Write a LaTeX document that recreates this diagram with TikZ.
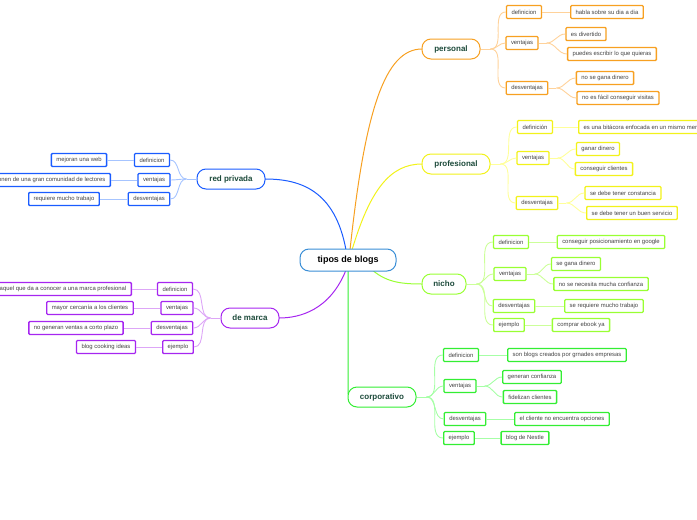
\documentclass[tikz,border=0pt]{standalone}
\usepackage{fontspec}
\setmainfont{Liberation Sans}
\usetikzlibrary{calc}
\definecolor{cOr}{HTML}{F7A021}\definecolor{lOr}{HTML}{FFD29A}
\definecolor{cYe}{HTML}{F2F21A}\definecolor{lYe}{HTML}{FFFF99}
\definecolor{cNi}{HTML}{99FF33}\definecolor{lNi}{HTML}{CCFF99}
\definecolor{cCo}{HTML}{33EE33}\definecolor{lCo}{HTML}{A6FFA6}
\definecolor{cBl}{HTML}{1A5CFF}\definecolor{lBl}{HTML}{A6C4FF}
\definecolor{cPu}{HTML}{A626F0}\definecolor{lPu}{HTML}{DDA6F7}
\definecolor{cRoot}{HTML}{3A8ED6}\definecolor{tMain}{HTML}{1C4A3A}
\definecolor{tSm}{HTML}{444444}
\tikzset{
 mainbox/.style={draw=#1,line width=1pt,rounded corners=9pt,fill=white,minimum height=20pt,inner xsep=9pt,font=\fontsize{8}{9}\selectfont\bfseries,text=tMain},
 sb/.style={draw=#1,line width=1.3pt,rounded corners=1pt,fill=white,minimum height=13pt,inner xsep=5pt,inner ysep=1pt,font=\fontsize{5.9}{7}\selectfont,text=tSm},
 br/.style={draw=#1,line width=1pt},
 sub/.style={draw=#1,line width=0.9pt},
}
\begin{document}
\begin{tikzpicture}[x=1pt,y=-1pt]
\useasboundingbox (0,0) rectangle (697,520);
\clip (0,0) rectangle (697,520);
\draw[br=cOr] (350,250) .. controls (365,110) and (385,49) .. (422,49);
\draw[br=cYe] (352,250) .. controls (370,190) and (390,164) .. (422,164);
\draw[br=cNi] (370,268) .. controls (385,282) and (400,284) .. (422,284);
\draw[br=cCo] (348,270) -- (348,385) .. controls (348,395) .. (350,397);
\draw[br=cBl] (346,250) .. controls (335,190) and (300,179) .. (265,179);
\draw[br=cPu] (346,270) .. controls (330,310) and (300,318) .. (279,318);

\node[draw=cRoot,line width=1pt,rounded corners=9pt,fill=white,minimum width=96pt,minimum height=22pt,font=\fontsize{9}{10}\selectfont\bfseries] (root) at (348,260) {tipos de blogs};

% personal
\node[mainbox=cOr,minimum width=58pt] (per) at (451,49) {personal};
\node[sb=cOr] (p1) at (524,12) {definicion};
\node[sb=cOr] (p1a) at (607,12) {habla sobre su dia a dia};
\node[sb=cOr] (p2) at (522,43) {ventajas};
\node[sb=cOr] (p2a) at (586,34) {es divertido};
\node[sb=cOr] (p2b) at (612,54) {puedes escribir lo que quieras};
\node[sb=cOr] (p3) at (527,88) {desventajas};
\node[sb=cOr] (p3a) at (605,78) {no se gana dinero};
\node[sb=cOr] (p3b) at (618,98) {no es fácil conseguir visitas};
\coordinate (pf) at ($(per.east)+(10,0)$);
\draw[sub=lOr] (per.east)--(pf);
\foreach \c in {p1,p2,p3}{\draw[sub=lOr] (pf) to[out=0,in=180] (\c.west);}
\draw[sub=lOr] (p1.east)--(p1a.west);
\coordinate (pv) at ($(p2.east)+(8,0)$);\draw[sub=lOr] (p2.east)--(pv);
\foreach \c in {p2a,p2b}{\draw[sub=lOr] (pv) to[out=0,in=180] (\c.west);}
\coordinate (pd) at ($(p3.east)+(8,0)$);\draw[sub=lOr] (p3.east)--(pd);
\foreach \c in {p3a,p3b}{\draw[sub=lOr] (pd) to[out=0,in=180] (\c.west);}

% profesional
\node[mainbox=cYe,minimum width=68pt] (pro) at (456,164) {profesional};
\node[sb=cYe] (q1) at (535,127) {definición};
\node[sb=cYe,anchor=west] (q1a) at (578,127) {es una bitácora enfocada en un mismo mercado};
\node[sb=cYe] (q2) at (533,158) {ventajas};
\node[sb=cYe] (q2a) at (598,149) {ganar dinero};
\node[sb=cYe] (q2b) at (604,169) {conseguir clientes};
\node[sb=cYe] (q3) at (537,203) {desventajas};
\node[sb=cYe] (q3a) at (623,193) {se debe tener constancia};
\node[sb=cYe] (q3b) at (632,213) {se debe tener un buen servicio};
\coordinate (qf) at ($(pro.east)+(10,0)$);\draw[sub=lYe] (pro.east)--(qf);
\foreach \c in {q1,q2,q3}{\draw[sub=lYe] (qf) to[out=0,in=180] (\c.west);}
\draw[sub=lYe] (q1.east)--(q1a.west);
\coordinate (qv) at ($(q2.east)+(8,0)$);\draw[sub=lYe] (q2.east)--(qv);
\foreach \c in {q2a,q2b}{\draw[sub=lYe] (qv) to[out=0,in=180] (\c.west);}
\coordinate (qd) at ($(q3.east)+(8,0)$);\draw[sub=lYe] (q3.east)--(qd);
\foreach \c in {q3a,q3b}{\draw[sub=lYe] (qd) to[out=0,in=180] (\c.west);}

% nicho
\node[mainbox=cNi,minimum width=44pt] (ni) at (444,284) {nicho};
\node[sb=cNi] (n1) at (511,242) {definicion};
\node[sb=cNi] (n1a) at (611,242) {conseguir posicionamiento en google};
\node[sb=cNi] (n2) at (510,274) {ventajas};
\node[sb=cNi] (n2a) at (576,264) {se gana dinero};
\node[sb=cNi] (n2b) at (601,284) {no se necesita mucha confianza};
\node[sb=cNi] (n3) at (514,306) {desventajas};
\node[sb=cNi] (n3a) at (604,306) {se requiere mucho trabajo};
\node[sb=cNi] (n4) at (509,325) {ejemplo};
\node[sb=cNi] (n4a) at (581,325) {comprar ebook ya};
\coordinate (nf) at ($(ni.east)+(10,0)$);\draw[sub=lNi] (ni.east)--(nf);
\foreach \c in {n1,n2,n3,n4}{\draw[sub=lNi] (nf) to[out=0,in=180] (\c.west);}
\draw[sub=lNi] (n1.east)--(n1a.west);
\draw[sub=lNi] (n3.east)--(n3a.west);
\draw[sub=lNi] (n4.east)--(n4a.west);
\coordinate (nv) at ($(n2.east)+(8,0)$);\draw[sub=lNi] (n2.east)--(nv);
\foreach \c in {n2a,n2b}{\draw[sub=lNi] (nv) to[out=0,in=180] (\c.west);}

% corporativo
\node[mainbox=cCo,minimum width=68pt] (co) at (382,397) {corporativo};
\node[sb=cCo] (c1) at (461,355) {definicion};
\node[sb=cCo] (c1a) at (567,355) {son blogs creados por grnades empresas};
\node[sb=cCo] (c2) at (460,386) {ventajas};
\node[sb=cCo] (c2a) at (532,377) {generan confianza};
\node[sb=cCo] (c2b) at (530,397) {fidelizan clientes};
\node[sb=cCo] (c3) at (465,419) {desventajas};
\node[sb=cCo] (c3a) at (562,419) {el cliente no encuentra opciones};
\node[sb=cCo] (c4) at (459,438) {ejemplo};
\node[sb=cCo] (c4a) at (525,438) {blog de Nestle};
\coordinate (cf) at ($(co.east)+(10,0)$);\draw[sub=lCo] (co.east)--(cf);
\foreach \c in {c1,c2,c3,c4}{\draw[sub=lCo] (cf) to[out=0,in=180] (\c.west);}
\draw[sub=lCo] (c1.east)--(c1a.west);
\draw[sub=lCo] (c3.east)--(c3a.west);
\draw[sub=lCo] (c4.east)--(c4a.west);
\coordinate (cv) at ($(c2.east)+(8,0)$);\draw[sub=lCo] (c2.east)--(cv);
\foreach \c in {c2a,c2b}{\draw[sub=lCo] (cv) to[out=0,in=180] (\c.west);}

% red privada
\node[mainbox=cBl,minimum width=68pt] (rp) at (231,179) {red privada};
\node[sb=cBl] (b1) at (152,160) {definicion};
\node[sb=cBl] (b1a) at (79,160) {mejoran una web};
\node[sb=cBl] (b2) at (154,180) {ventajas};
\node[sb=cBl,anchor=east] (b2a) at (111,180) {disponen de una gran comunidad de lectores};
\node[sb=cBl] (b3) at (149,199) {desventajas};
\node[sb=cBl] (b3a) at (64,199) {requiere mucho trabajo};
\coordinate (bf) at ($(rp.west)+(-10,0)$);\draw[sub=lBl] (rp.west)--(bf);
\foreach \c in {b1,b2,b3}{\draw[sub=lBl] (bf) to[out=180,in=0] (\c.east);}
\draw[sub=lBl] (b1.west)--(b1a.east);
\draw[sub=lBl] (b2.west)--(b2a.east);
\draw[sub=lBl] (b3.west)--(b3a.east);

% de marca
\node[mainbox=cPu,minimum width=58pt] (dm) at (250,318) {de marca};
\node[sb=cPu] (m1) at (175,289) {definicion};
\node[sb=cPu,anchor=east] (m1a) at (132,289) {aquel que da a conocer a una marca profesional};
\node[sb=cPu] (m2) at (177,308) {ventajas};
\node[sb=cPu] (m2a) at (90,308) {mayor cercanía a los clientes};
\node[sb=cPu] (m3) at (172,328) {desventajas};
\node[sb=cPu] (m3a) at (76,328) {no generan ventas a corto plazo};
\node[sb=cPu] (m4) at (178,347) {ejemplo};
\node[sb=cPu] (m4a) at (106,347) {blog cooking ideas};
\coordinate (mf) at ($(dm.west)+(-10,0)$);\draw[sub=lPu] (dm.west)--(mf);
\foreach \c in {m1,m2,m3,m4}{\draw[sub=lPu] (mf) to[out=180,in=0] (\c.east);}
\foreach \c in {1,2,3,4}{\draw[sub=lPu] (m\c.west)--(m\c a.east);}
\end{tikzpicture}
\end{document}
